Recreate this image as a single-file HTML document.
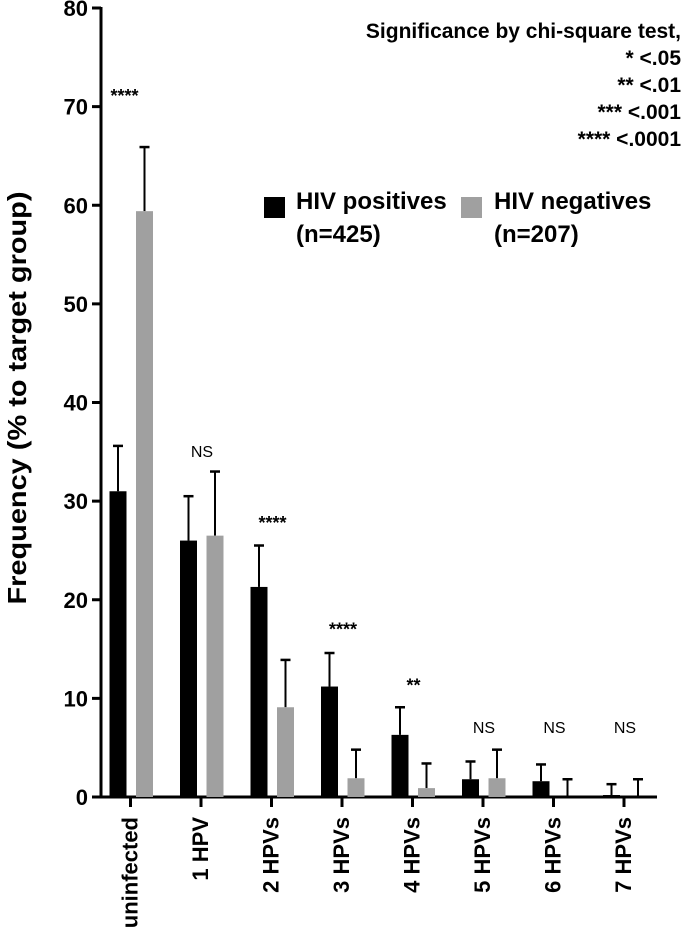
<!DOCTYPE html>
<html><head><meta charset="utf-8"><style>
html,body{margin:0;padding:0;background:#fff;}
svg{display:block;font-family:"Liberation Sans",sans-serif;font-weight:bold;}
</style></head><body>
<svg id="chart" width="685" height="935" viewBox="0 0 685 935" xmlns="http://www.w3.org/2000/svg">
<g id="axes"></g><g id="bars"></g><g id="labels"></g>
<text transform="translate(26,398) rotate(-90)" text-anchor="middle" font-size="26" textLength="413" lengthAdjust="spacingAndGlyphs">Frequency (% to target group)</text>
<g text-anchor="end" font-size="21">
<text x="681" y="38">Significance by chi-square test,</text>
<text x="681" y="65">* &lt;.05</text>
<text x="681" y="92">** &lt;.01</text>
<text x="681" y="119">*** &lt;.001</text>
<text x="681" y="146">**** &lt;.0001</text>
</g>
<g font-size="24">
<rect x="264" y="197" width="21" height="21" fill="#000"/>
<text x="296" y="209">HIV positives</text>
<text x="296" y="242">(n=425)</text>
<rect x="461" y="197" width="21" height="21" fill="#a0a0a0"/>
<text x="494" y="209">HIV negatives</text>
<text x="494" y="242">(n=207)</text>
</g>
</svg>
<script>
const categories=["uninfected","1 HPV","2 HPVs","3 HPVs","4 HPVs","5 HPVs","6 HPVs","7 HPVs"];
const hivPos=[31,26,21.3,11.2,6.3,1.8,1.6,0.2];
const hivPosErr=[35.6,30.5,25.5,14.6,9.1,3.6,3.3,1.3];
const hivNeg=[59.4,26.5,9.1,1.9,0.9,1.9,0,0];
const hivNegErr=[65.9,33,13.9,4.8,3.4,4.8,1.8,1.8];
const sigLabels=["****","NS","****","****","**","NS","NS","NS"];
const sigY=[71.6,35.1,28.3,17.5,11.8,7.1,7.1,7.1];
const yTicks=[0,10,20,30,40,50,60,70,80];

const NS="http://www.w3.org/2000/svg";
const y=v=>797-v*9.8625;
const x=i=>130.5+i*70.5;
function mk(tag,attrs,parent){const e=document.createElementNS(NS,tag);for(const k in attrs)e.setAttribute(k,attrs[k]);parent.appendChild(e);return e;}
const axes=document.getElementById('axes'),bars=document.getElementById('bars'),labels=document.getElementById('labels');
let e=mk('line',{x1:101,y1:7,x2:101,y2:798.5,stroke:'#000','stroke-width':3},axes);


e=mk('line',{x1:99.5,y1:797,x2:657,y2:797,stroke:'#000','stroke-width':3},axes);


yTicks.forEach(t=>{
  mk('line',{x1:92,y1:y(t),x2:101,y2:y(t),stroke:'#000','stroke-width':3},axes);
  const tx=mk('text',{x:88,y:y(t)+8,'text-anchor':'end','font-size':22},axes);
  tx.textContent=t;
  
  
});
function errBar(cx,top,base){
  mk('line',{x1:cx,y1:y(top),x2:cx,y2:y(base),stroke:'#000','stroke-width':2},bars);
  mk('line',{x1:cx-5,y1:y(top),x2:cx+5,y2:y(top),stroke:'#000','stroke-width':2.5},bars);
}
categories.forEach((c,i)=>{
  const cx=x(i);
  mk('line',{x1:cx,y1:797,x2:cx,y2:807,stroke:'#000','stroke-width':3},axes);
  errBar(cx-12.5,hivPosErr[i],hivPos[i]);
  errBar(cx+14,hivNegErr[i],hivNeg[i]);
  let b=mk('rect',{x:cx-21,y:y(hivPos[i]),width:17,height:Math.max(797-y(hivPos[i]),0),fill:'#000'},bars);
  
  
  b=mk('rect',{x:cx+5.5,y:y(hivNeg[i]),width:17,height:Math.max(797-y(hivNeg[i]),0),fill:'#a0a0a0'},bars);
  
  
  const t=mk('text',{transform:`translate(${cx+7},817) rotate(-90)`,'text-anchor':'end','font-size':22},labels);
  t.textContent=c;
  
  
  const isNS=sigLabels[i]==='NS';
  const s=mk('text',{x:i===0?cx-6:cx+1,y:y(sigY[i])+(isNS?6:11),'text-anchor':'middle','font-size':isNS?16:18,'font-weight':isNS?'normal':'bold'},labels);
  s.textContent=sigLabels[i];
  
  
});
</script>
</body></html>
